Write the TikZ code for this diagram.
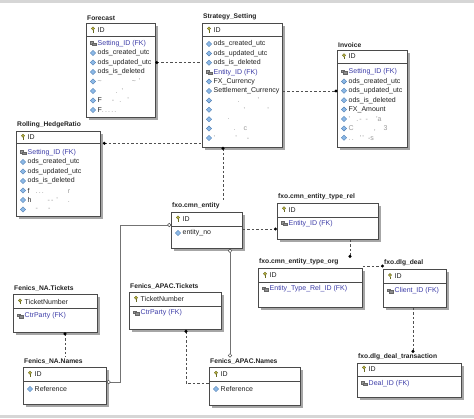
\documentclass[tikz,border=0pt]{standalone}
\usepackage{fontspec}
\setmainfont{Liberation Sans}
\usetikzlibrary{shadows}
\definecolor{boxline}{HTML}{4A4A4A}
\definecolor{fktext}{HTML}{3C3CA8}
\definecolor{txt}{HTML}{222222}
\definecolor{attrfill}{HTML}{8DB9E6}
\definecolor{attrdraw}{HTML}{4F7FB5}
\definecolor{keyfill}{HTML}{B8B040}
\definecolor{keydraw}{HTML}{6A6A20}
\definecolor{fkfill}{HTML}{9A9A9A}
\definecolor{band}{HTML}{D6D6D6}
\definecolor{conn}{HTML}{505050}
\tikzset{
 tblbox/.style={draw=boxline, line width=0.8pt, fill=white, inner sep=0pt,
   drop shadow={shadow xshift=2.5pt, shadow yshift=-2.5pt, fill=black!35, opacity=1}},
 tbltitle/.style={font=\bfseries\fontsize{6.7}{8}\selectfont, text=txt, inner sep=1pt},
 rowtxt/.style={font=\fontsize{7}{8}\selectfont, text=txt, inner sep=0pt, anchor=west},
 fktxt/.style={rowtxt, text=fktext},
 faint/.style={rowtxt, text=black!40},
 sepline/.style={draw=boxline, line width=0.6pt},
 fklink/.style={draw=conn, line width=0.7pt, dash pattern=on 2.5pt off 2pt},
 solidlink/.style={draw=black!55, line width=0.7pt},
 fkdot/.style={fill=black},
 opencirc/.style={draw=black!70, fill=white, line width=0.5pt},
}
\newcommand{\ertable}[7]{%
  \node[tblbox, minimum width=#4pt, minimum height=#5pt, anchor=north west] (#1) at (#2,#3) {};
  \node[tbltitle, anchor=south west] (#1-title) at ([yshift=1.5pt]#1.north west) {#6};
  \draw[sepline] ([yshift=-#7pt]#1.north west) -- ([yshift=-#7pt]#1.north east);
}
\newcommand{\ericonattr}[1]{\filldraw[fill=attrfill, draw=attrdraw, line width=0.4pt] (#1) ++(0pt,2.6pt) -- ++(2.6pt,-2.6pt) -- ++(-2.6pt,-2.6pt) -- ++(-2.6pt,2.6pt) -- cycle;}
\newcommand{\ericonkey}[1]{\filldraw[fill=keyfill, draw=keydraw, line width=0.4pt] (#1) ++(0pt,1.3pt) circle (1.6pt);
  \draw[keydraw, line width=0.8pt] (#1) ++(0pt,-0.3pt) -- ++(0pt,-2.4pt) ++(0pt,0.8pt) -- ++(1.2pt,0pt);}
\newcommand{\ericonfk}[1]{\filldraw[fill=fkfill, draw=black!60, line width=0.3pt] (#1) ++(-3pt,2pt) rectangle ++(3.5pt,-2.5pt);
  \filldraw[fill=black!45, draw=black!60, line width=0.3pt] (#1) ++(-1pt,0.5pt) rectangle ++(4pt,-2.5pt);}
\newcommand{\errow}[6]{%
  \coordinate (#1-#2-i) at ([xshift=7pt,yshift=-#3pt]#1.north west);
  \csname ericon#4\endcsname{#1-#2-i}
  \node[#5] (#1-#2) at ([xshift=11.5pt,yshift=-#3pt]#1.north west) {#6};
}
\begin{document}
\begin{tikzpicture}[x=1pt,y=-1pt]
\useasboundingbox (0,0) rectangle (474,418);
\fill[white] (0,0) rectangle (474,418);
\fill[band] (0,0) rectangle (474,2.5);
\fill[band] (0,414.5) rectangle (474,418);

% Forecast
\ertable{forecast}{86}{23}{69}{94}{Forecast}{13.5}
\errow{forecast}{id}{6.8}{key}{rowtxt}{ID}
\errow{forecast}{r1}{20.5}{fk}{fktxt}{Setting\_ID (FK)}
\errow{forecast}{r2}{30}{attr}{rowtxt}{ods\_created\_utc}
\errow{forecast}{r3}{39.5}{attr}{rowtxt}{ods\_updated\_utc}
\errow{forecast}{r4}{49}{attr}{rowtxt}{ods\_is\_deleted}
\errow{forecast}{r5}{58.5}{attr}{faint}{\textasciitilde\hspace{30pt}\textasciitilde\hspace{3pt}'}
\errow{forecast}{r6}{68}{attr}{faint}{\hspace{18pt}.\hspace{4pt}'}
\errow{forecast}{r7}{77.5}{attr}{faint}{{\color{txt}F}\hspace{10pt}-\hspace{5pt}.\hspace{6pt}'}
\errow{forecast}{r8}{87}{attr}{faint}{{\color{txt}F}.\,.\,.\,.\,.}

% Strategy_Setting
\ertable{strategy}{202}{23}{80}{124}{Strategy\_Setting}{13.5}
\errow{strategy}{id}{6.8}{key}{rowtxt}{ID}
\errow{strategy}{r1}{21}{attr}{rowtxt}{ods\_created\_utc}
\errow{strategy}{r2}{30.4}{attr}{rowtxt}{ods\_updated\_utc}
\errow{strategy}{r3}{39.8}{attr}{rowtxt}{ods\_is\_deleted}
\errow{strategy}{r4}{49.2}{fk}{fktxt}{Entity\_ID (FK)}
\errow{strategy}{r5}{58.6}{attr}{rowtxt}{FX\_Currency}
\errow{strategy}{r6}{68}{attr}{rowtxt}{Settlement\_Currency}
\errow{strategy}{r7}{77.4}{attr}{faint}{\hspace{24pt}.\hspace{18pt}'}
\errow{strategy}{r8}{86.8}{attr}{faint}{\hspace{30pt}'\hspace{22pt}'}
\errow{strategy}{r9}{96.2}{attr}{faint}{\hspace{14pt}.}
\errow{strategy}{r10}{105.6}{attr}{faint}{\hspace{20pt}.\hspace{8pt}c}
\errow{strategy}{r11}{115}{attr}{faint}{'\hspace{20pt}'\hspace{10pt}-}

% Invoice
\ertable{invoice}{337}{50}{70}{97}{Invoice}{13}
\errow{invoice}{id}{6.5}{key}{rowtxt}{ID}
\errow{invoice}{r1}{22}{fk}{fktxt}{Setting\_ID (FK)}
\errow{invoice}{r2}{31.4}{attr}{rowtxt}{ods\_created\_utc}
\errow{invoice}{r3}{40.8}{attr}{rowtxt}{ods\_updated\_utc}
\errow{invoice}{r4}{50.2}{attr}{rowtxt}{ods\_is\_deleted}
\errow{invoice}{r5}{59.6}{attr}{rowtxt}{FX\_Amount}
\errow{invoice}{r6}{69}{attr}{faint}{'\hspace{6pt}.\,-\hspace{4pt}-\hspace{8pt}'a}
\errow{invoice}{r7}{78.4}{attr}{faint}{C\hspace{20pt},\hspace{8pt}3}
\errow{invoice}{r8}{87.8}{attr}{faint}{.\,.\hspace{6pt}'\,'\hspace{4pt}-s}

% Rolling_HedgeRatio
\ertable{rolling}{16}{131}{84}{85}{Rolling\_HedgeRatio}{12.5}
\errow{rolling}{id}{6}{key}{rowtxt}{ID}
\errow{rolling}{r1}{21.5}{fk}{fktxt}{Setting\_ID (FK)}
\errow{rolling}{r2}{31}{attr}{rowtxt}{ods\_created\_utc}
\errow{rolling}{r3}{40.5}{attr}{rowtxt}{ods\_updated\_utc}
\errow{rolling}{r4}{50}{attr}{rowtxt}{ods\_is\_deleted}
\errow{rolling}{r5}{59.5}{attr}{faint}{{\color{txt}f}\hspace{6pt}.\,.\,.\hspace{24pt}r}
\errow{rolling}{r6}{69}{attr}{faint}{{\color{txt}h}\hspace{16pt}-\,-\hspace{3pt}'\hspace{10pt}.}
\errow{rolling}{r7}{78.5}{attr}{faint}{\hspace{8pt}-\hspace{10pt}-}

% fxo.cmn_entity
\ertable{entity}{171}{212}{71}{36}{fxo.cmn\_entity}{14.5}
\errow{entity}{id}{6.8}{key}{rowtxt}{ID}
\errow{entity}{r1}{21}{attr}{rowtxt}{entity\_no}

% fxo.cmn_entity_type_rel
\ertable{typerel}{277}{203}{101}{36}{fxo.cmn\_entity\_type\_rel}{14}
\errow{typerel}{id}{6.6}{key}{rowtxt}{ID}
\errow{typerel}{r1}{20.6}{fk}{fktxt}{Entity\_ID (FK)}

% fxo.cmn_entity_type_org
\ertable{typeorg}{258}{268}{104}{39}{fxo.cmn\_entity\_type\_org}{14}
\errow{typeorg}{id}{7}{key}{rowtxt}{ID}
\errow{typeorg}{r1}{21}{fk}{fktxt}{Entity\_Type\_Rel\_ID (FK)}

% fxo.dlg_deal
\ertable{deal}{383}{269}{63}{38}{fxo.dlg\_deal}{14}
\errow{deal}{id}{7.4}{key}{rowtxt}{ID}
\errow{deal}{r1}{22}{fk}{fktxt}{Client\_ID (FK)}

% fxo.dlg_deal_transaction
\ertable{trans}{357}{363}{104}{34}{fxo.dlg\_deal\_transaction}{13.3}
\errow{trans}{id}{5.8}{key}{rowtxt}{ID}
\errow{trans}{r1}{20.6}{fk}{fktxt}{Deal\_ID (FK)}

% Fenics_NA.Tickets
\ertable{natk}{13}{294}{84}{38}{Fenics\_NA.Tickets}{14}
\errow{natk}{id}{7.7}{key}{rowtxt}{TicketNumber}
\errow{natk}{r1}{22}{fk}{fktxt}{CtrParty (FK)}

% Fenics_NA.Names
\ertable{nanm}{23}{367}{83}{37}{Fenics\_NA.Names}{14.5}
\errow{nanm}{id}{7}{key}{rowtxt}{ID}
\errow{nanm}{r1}{22}{attr}{rowtxt}{Reference}

% Fenics_APAC.Tickets
\ertable{aptk}{129}{292}{92}{37}{Fenics\_APAC.Tickets}{14.5}
\errow{aptk}{id}{7}{key}{rowtxt}{TicketNumber}
\errow{aptk}{r1}{21}{fk}{fktxt}{CtrParty (FK)}

% Fenics_APAC.Names
\ertable{apnm}{209}{367}{91}{38}{Fenics\_APAC.Names}{14.5}
\errow{apnm}{id}{7}{key}{rowtxt}{ID}
\errow{apnm}{r1}{22}{attr}{rowtxt}{Reference}

% ---------- connectors ----------
% Forecast -> Strategy
\coordinate (fa) at ([xshift=1pt,yshift=-39.5pt]forecast.north east);
\draw[fklink] (fa) -- (fa -| strategy.west);
\fill[fkdot] (fa) circle (1.7pt);
% Strategy -> Invoice
\coordinate (sb) at ([yshift=-68pt]strategy.north east);
\coordinate (sbe) at ([xshift=-1pt]sb -| invoice.west);
\draw[fklink] (sb) -- (sbe);
\fill[fkdot] (sbe) circle (1.7pt);
% Rolling -> Strategy
\coordinate (rc) at ([xshift=3.5pt,yshift=-12.3pt]rolling.north east);
\draw[fklink] (rc) -- (rc -| strategy.west);
\fill[fkdot] (rc) circle (1.7pt);
% Strategy -> cmn_entity
\coordinate (sd) at ([xshift=21pt,yshift=-0.5pt]strategy.south west);
\draw[fklink] (sd) -- ([yshift=1pt]sd |- entity-title.north);
\fill[fkdot] (sd) circle (1.7pt);
% cmn_entity -> type_rel
\coordinate (ee) at ([yshift=-17pt]entity.north east);
\coordinate (eee) at ([xshift=-1.5pt]ee -| typerel.west);
\draw[fklink] (ee) -- (eee);
\fill[fkdot] (eee) circle (1.7pt);
% type_rel -> type_org
\coordinate (tr) at ([xshift=73pt]typerel.south west);
\coordinate (tre) at ([yshift=1.5pt]tr |- typeorg-title.north);
\draw[fklink] (tr) -- (tre);
\fill[fkdot] (tre) circle (1.7pt);
% type_org -> dlg_deal
\coordinate (to) at ([yshift=2pt]typeorg.north east);
\coordinate (toe) at ([xshift=-0.5pt]to -| deal-title.west);
\draw[fklink] (to) -- (toe);
\fill[fkdot] (toe) circle (1.7pt);
% dlg_deal -> transaction
\coordinate (dd) at ([xshift=30pt]deal.south west);
\coordinate (dde) at ([yshift=1.5pt]dd |- trans-title.north);
\draw[fklink] (dd) -- (dde);
\fill[fkdot] (dde) circle (1.7pt);
% NA.Tickets -> NA.Names
\coordinate (nt) at ([xshift=52pt,yshift=-1pt]natk.south west);
\draw[fklink] (nt) -- ([yshift=1pt]nt |- nanm-title.north);
\fill[fkdot] (nt) circle (1.7pt);
% APAC.Tickets -> APAC.Names
\coordinate (at) at ([xshift=57pt,yshift=-1.5pt]aptk.south west);
\draw[fklink] (at) |- ([yshift=-16pt]apnm.north west);
\fill[fkdot] (at) circle (1.7pt);
% NA.Names -> cmn_entity
\coordinate (nn) at ([xshift=1.8pt,yshift=-15pt]nanm.north east);
\coordinate (ew) at ([xshift=-1.8pt,yshift=-13pt]entity.north west);
\draw[solidlink] (nn) -- ++(12,0) |- (ew);
\filldraw[opencirc] (nn) circle (1.8pt);
\filldraw[opencirc] (ew) circle (1.8pt);
% cmn_entity -> APAC.Names
\coordinate (eb) at ([xshift=59pt,yshift=-2pt]entity.south west);
\coordinate (ebe) at ([yshift=2pt]eb |- apnm-title.north);
\draw[solidlink] (eb) -- (ebe);
\filldraw[opencirc] (eb) circle (1.8pt);
\filldraw[opencirc] (ebe) circle (1.8pt);
\end{tikzpicture}
\end{document}
